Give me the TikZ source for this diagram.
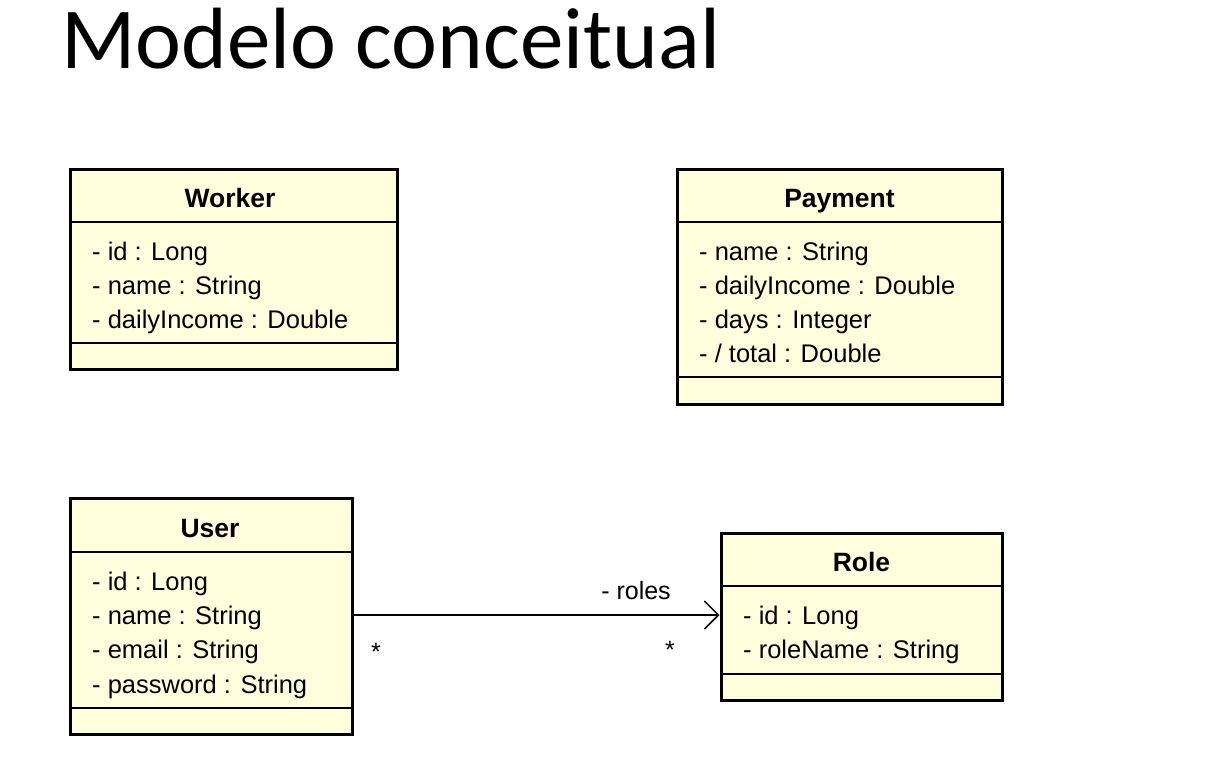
\documentclass[tikz,border=0pt]{standalone}
\usepackage{fontspec}
\setmainfont{Liberation Sans}
\newfontfamily\titlefont{Carlito}
\usetikzlibrary{arrows.meta}
\definecolor{umlfill}{RGB}{255,255,221}
\tikzset{
  umlbox/.style={draw=black, line width=3pt, fill=umlfill, inner sep=0pt},
  sep/.style={line width=1.5pt},
  attr/.style={anchor=base west, inner sep=0pt, font=\fontsize{25.5}{25.5}\selectfont},
  hdr/.style={anchor=base, inner sep=0pt, font=\fontsize{26.5}{26.5}\selectfont\bfseries},
  lbl/.style={anchor=base, inner sep=0pt, font=\fontsize{25}{25}\selectfont}
}
\begin{document}
\begin{tikzpicture}[x=1pt,y=-1pt]
\useasboundingbox (0,0) rectangle (1205,761);
\fill[white] (0,0) rectangle (1205,761);
\node[anchor=base west, inner sep=0pt, font=\titlefont\fontsize{87}{87}\selectfont] (title) at (61,68) {Modelo conceitual};

% Worker
\node[umlbox, minimum width=327pt, minimum height=200pt] (worker) at (233.5,269) {};
\draw[sep] (70,222) -- (397,222); \draw[sep] (70,343) -- (397,343);
\node[hdr] (wh) at (230,207) {Worker};
\node[attr] (w1) at (92,260) {- id : Long};
\node[attr] (w2) at (92,294) {- name : String};
\node[attr] (w3) at (92,328) {- dailyIncome : Double};

% Payment
\node[umlbox, minimum width=325pt, minimum height=235pt] (payment) at (839.5,286.5) {};
\draw[sep] (677,222) -- (1002,222); \draw[sep] (677,377) -- (1002,377);
\node[hdr] (ph) at (839.5,207) {Payment};
\node[attr] (p1) at (699,260) {- name : String};
\node[attr] (p2) at (699,294) {- dailyIncome : Double};
\node[attr] (p3) at (699,328) {- days : Integer};
\node[attr] (p4) at (699,362) {- / total : Double};

% User
\node[umlbox, minimum width=282pt, minimum height=236pt] (user) at (211,616) {};
\draw[sep] (70,552) -- (352,552); \draw[sep] (70,708) -- (352,708);
\node[hdr] (uh) at (210,537) {User};
\node[attr] (u1) at (92,590) {- id : Long};
\node[attr] (u2) at (92,624) {- name : String};
\node[attr] (u3) at (92,658) {- email : String};
\node[attr] (u4) at (92,693) {- password : String};

% Role
\node[umlbox, minimum width=281pt, minimum height=167pt] (role) at (861.5,616.5) {};
\draw[sep] (721,586) -- (1002,586); \draw[sep] (721,674) -- (1002,674);
\node[hdr] (rh) at (861.5,571) {Role};
\node[attr] (r1) at (743,624) {- id : Long};
\node[attr] (r2) at (743,658) {- roleName : String};

% Association
\draw[line width=1.5pt, -{Straight Barb[length=14pt,width=28pt,line width=1.5pt]}] (user.east |- 0,615) -- (role.west |- 0,615);
\node[lbl] (roles) at (636,599) {- roles};
\node[lbl] (m1) at (376,660) {*};
\node[lbl] (m2) at (670,658) {*};
\end{tikzpicture}
\end{document}
